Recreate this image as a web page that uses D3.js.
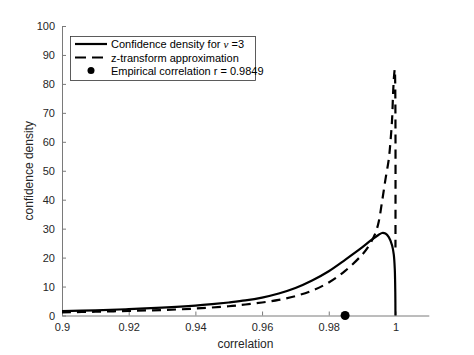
<!DOCTYPE html>
<html>
<head>
<meta charset="utf-8">
<script src="https://cdn.jsdelivr.net/npm/d3@7/dist/d3.min.js"></script>
<style>
  html, body { margin: 0; padding: 0; background: #fff; }
  svg { display: block; }
  text { font-family: "Liberation Sans", Arial, sans-serif; }
</style>
</head>
<body>
<div id="chart"></div>
<script>
// ---- data ----
const solidX = [0.9, 0.91, 0.92, 0.93, 0.94, 0.945, 0.95, 0.955, 0.96, 0.965, 0.97, 0.975, 0.98, 0.985, 0.99, 0.993, 0.995, 0.996, 0.997, 0.998, 0.999, 0.9995, 0.9998, 0.99995, 1.0];
const solidY = [1.5, 1.8, 2.2, 2.7, 3.4, 3.9, 4.5, 5.2, 6.2, 7.6, 9.5, 12.1, 15.3, 19.3, 23.5, 26.3, 27.9, 28.5, 28.3, 27.1, 24.2, 21.0, 16.0, 8.0, 0.0];
const dashX = [0.9, 0.91, 0.92, 0.93, 0.94, 0.95, 0.955, 0.96, 0.965, 0.97, 0.975, 0.98, 0.985, 0.99, 0.992, 0.994, 0.995, 0.996, 0.997, 0.998, 0.9985, 0.999, 0.9993, 0.9996, 0.9998, 1.0];
const dashY = [1.1, 1.3, 1.6, 1.9, 2.4, 3.2, 3.8, 4.5, 5.4, 6.7, 8.6, 11.4, 15.5, 21.0, 24.0, 28.5, 32.5, 39.5, 47.0, 54.0, 60.0, 68.0, 77.0, 83.0, 85.0, 23.5];
const empiricalR = 0.9849;
const xTicks = [0.9, 0.92, 0.94, 0.96, 0.98, 1];
const yTicks = [0, 10, 20, 30, 40, 50, 60, 70, 80, 90, 100];
const legendLabels = ["Confidence density for ", "z-transform approximation", "Empirical correlation r = 0.9849"];

// ---- layout ----
const W = 474, H = 355;
const svg = d3.select("#chart").append("svg").attr("width", W).attr("height", H);

const x = d3.scaleLinear().domain([0.9, 1.01]).range([62, 428.8]);
const y = d3.scaleLinear().domain([0, 100]).range([315.5, 26]);

const axisColor = "#7a7a7a";
const labelColor = "#262626";

// x axis
const xAxis = svg.append("g").attr("transform", `translate(0,${y(0)})`)
  .call(d3.axisBottom(x).tickValues(xTicks).tickSizeInner(-4).tickSizeOuter(0)
        .tickFormat(d => d === 1 ? "1" : d3.format("")(+d.toFixed(2))));
xAxis.select(".domain").attr("stroke", axisColor);
xAxis.selectAll(".tick line").attr("stroke", axisColor);
xAxis.selectAll(".tick text").attr("fill", labelColor).attr("font-size", 11)
  .attr("font-family", "Liberation Sans, Arial, sans-serif").attr("dy", "1.05em").attr("y", 4);

// y axis
const yAxis = svg.append("g").attr("transform", `translate(${x(0.9)},0)`)
  .call(d3.axisLeft(y).tickValues(yTicks).tickSizeInner(-4).tickSizeOuter(0));
yAxis.select(".domain").attr("stroke", axisColor);
yAxis.selectAll(".tick line").attr("stroke", axisColor);
yAxis.selectAll(".tick text").attr("fill", labelColor).attr("font-size", 11)
  .attr("font-family", "Liberation Sans, Arial, sans-serif").attr("x", -7);

// axis labels
svg.append("text").attr("x", (x(0.9) + x(1.01)) / 2).attr("y", 348)
  .attr("text-anchor", "middle").attr("font-size", 12).attr("fill", labelColor).text("correlation");
svg.append("text").attr("transform", `translate(33,${(y(0) + y(100)) / 2}) rotate(-90)`)
  .attr("text-anchor", "middle").attr("font-size", 12).attr("fill", labelColor).text("confidence density");

// curves
const line = d3.line().x(d => x(d[0])).y(d => y(d[1])).curve(d3.curveCatmullRom.alpha(0.5));
const solidData = solidX.map((v, i) => [v, solidY[i]]);
const dashData = dashX.map((v, i) => [v, dashY[i]]);

svg.append("path").datum(dashData).attr("d", line)
  .attr("fill", "none").attr("stroke", "#000").attr("stroke-width", 2.2)
  .attr("stroke-dasharray", "9,6");
svg.append("path").datum(solidData).attr("d", line)
  .attr("fill", "none").attr("stroke", "#000").attr("stroke-width", 2.2);

// empirical point
svg.append("circle").attr("cx", x(empiricalR)).attr("cy", y(0)).attr("r", 4.5).attr("fill", "#000");

// legend
const lg = svg.append("g");
lg.append("rect").attr("x", 70.5).attr("y", 36.5).attr("width", 185).attr("height", 44)
  .attr("fill", "#fff").attr("stroke", "#333").attr("stroke-width", 0.8);
const rows = [44, 57.5, 70.5];
lg.append("line").attr("x1", 75).attr("x2", 107).attr("y1", rows[0]).attr("y2", rows[0])
  .attr("stroke", "#000").attr("stroke-width", 2.2);
lg.append("line").attr("x1", 75).attr("x2", 107).attr("y1", rows[1]).attr("y2", rows[1])
  .attr("stroke", "#000").attr("stroke-width", 2.2).attr("stroke-dasharray", "11,6");
lg.append("circle").attr("cx", 91).attr("cy", rows[2]).attr("r", 3.5).attr("fill", "#000");

const t0 = lg.append("text").attr("x", 111).attr("y", rows[0] + 4).attr("font-size", 11).attr("fill", "#000");
t0.append("tspan").text(legendLabels[0]);
t0.append("tspan").attr("font-style", "italic").attr("font-family", "Liberation Serif, serif").text("ν");
t0.append("tspan").text(" =3");
lg.append("text").attr("x", 111).attr("y", rows[1] + 4).attr("font-size", 11).attr("fill", "#000").text(legendLabels[1]);
lg.append("text").attr("x", 111).attr("y", rows[2] + 4).attr("font-size", 11).attr("fill", "#000").text(legendLabels[2]);
</script>
</body>
</html>
